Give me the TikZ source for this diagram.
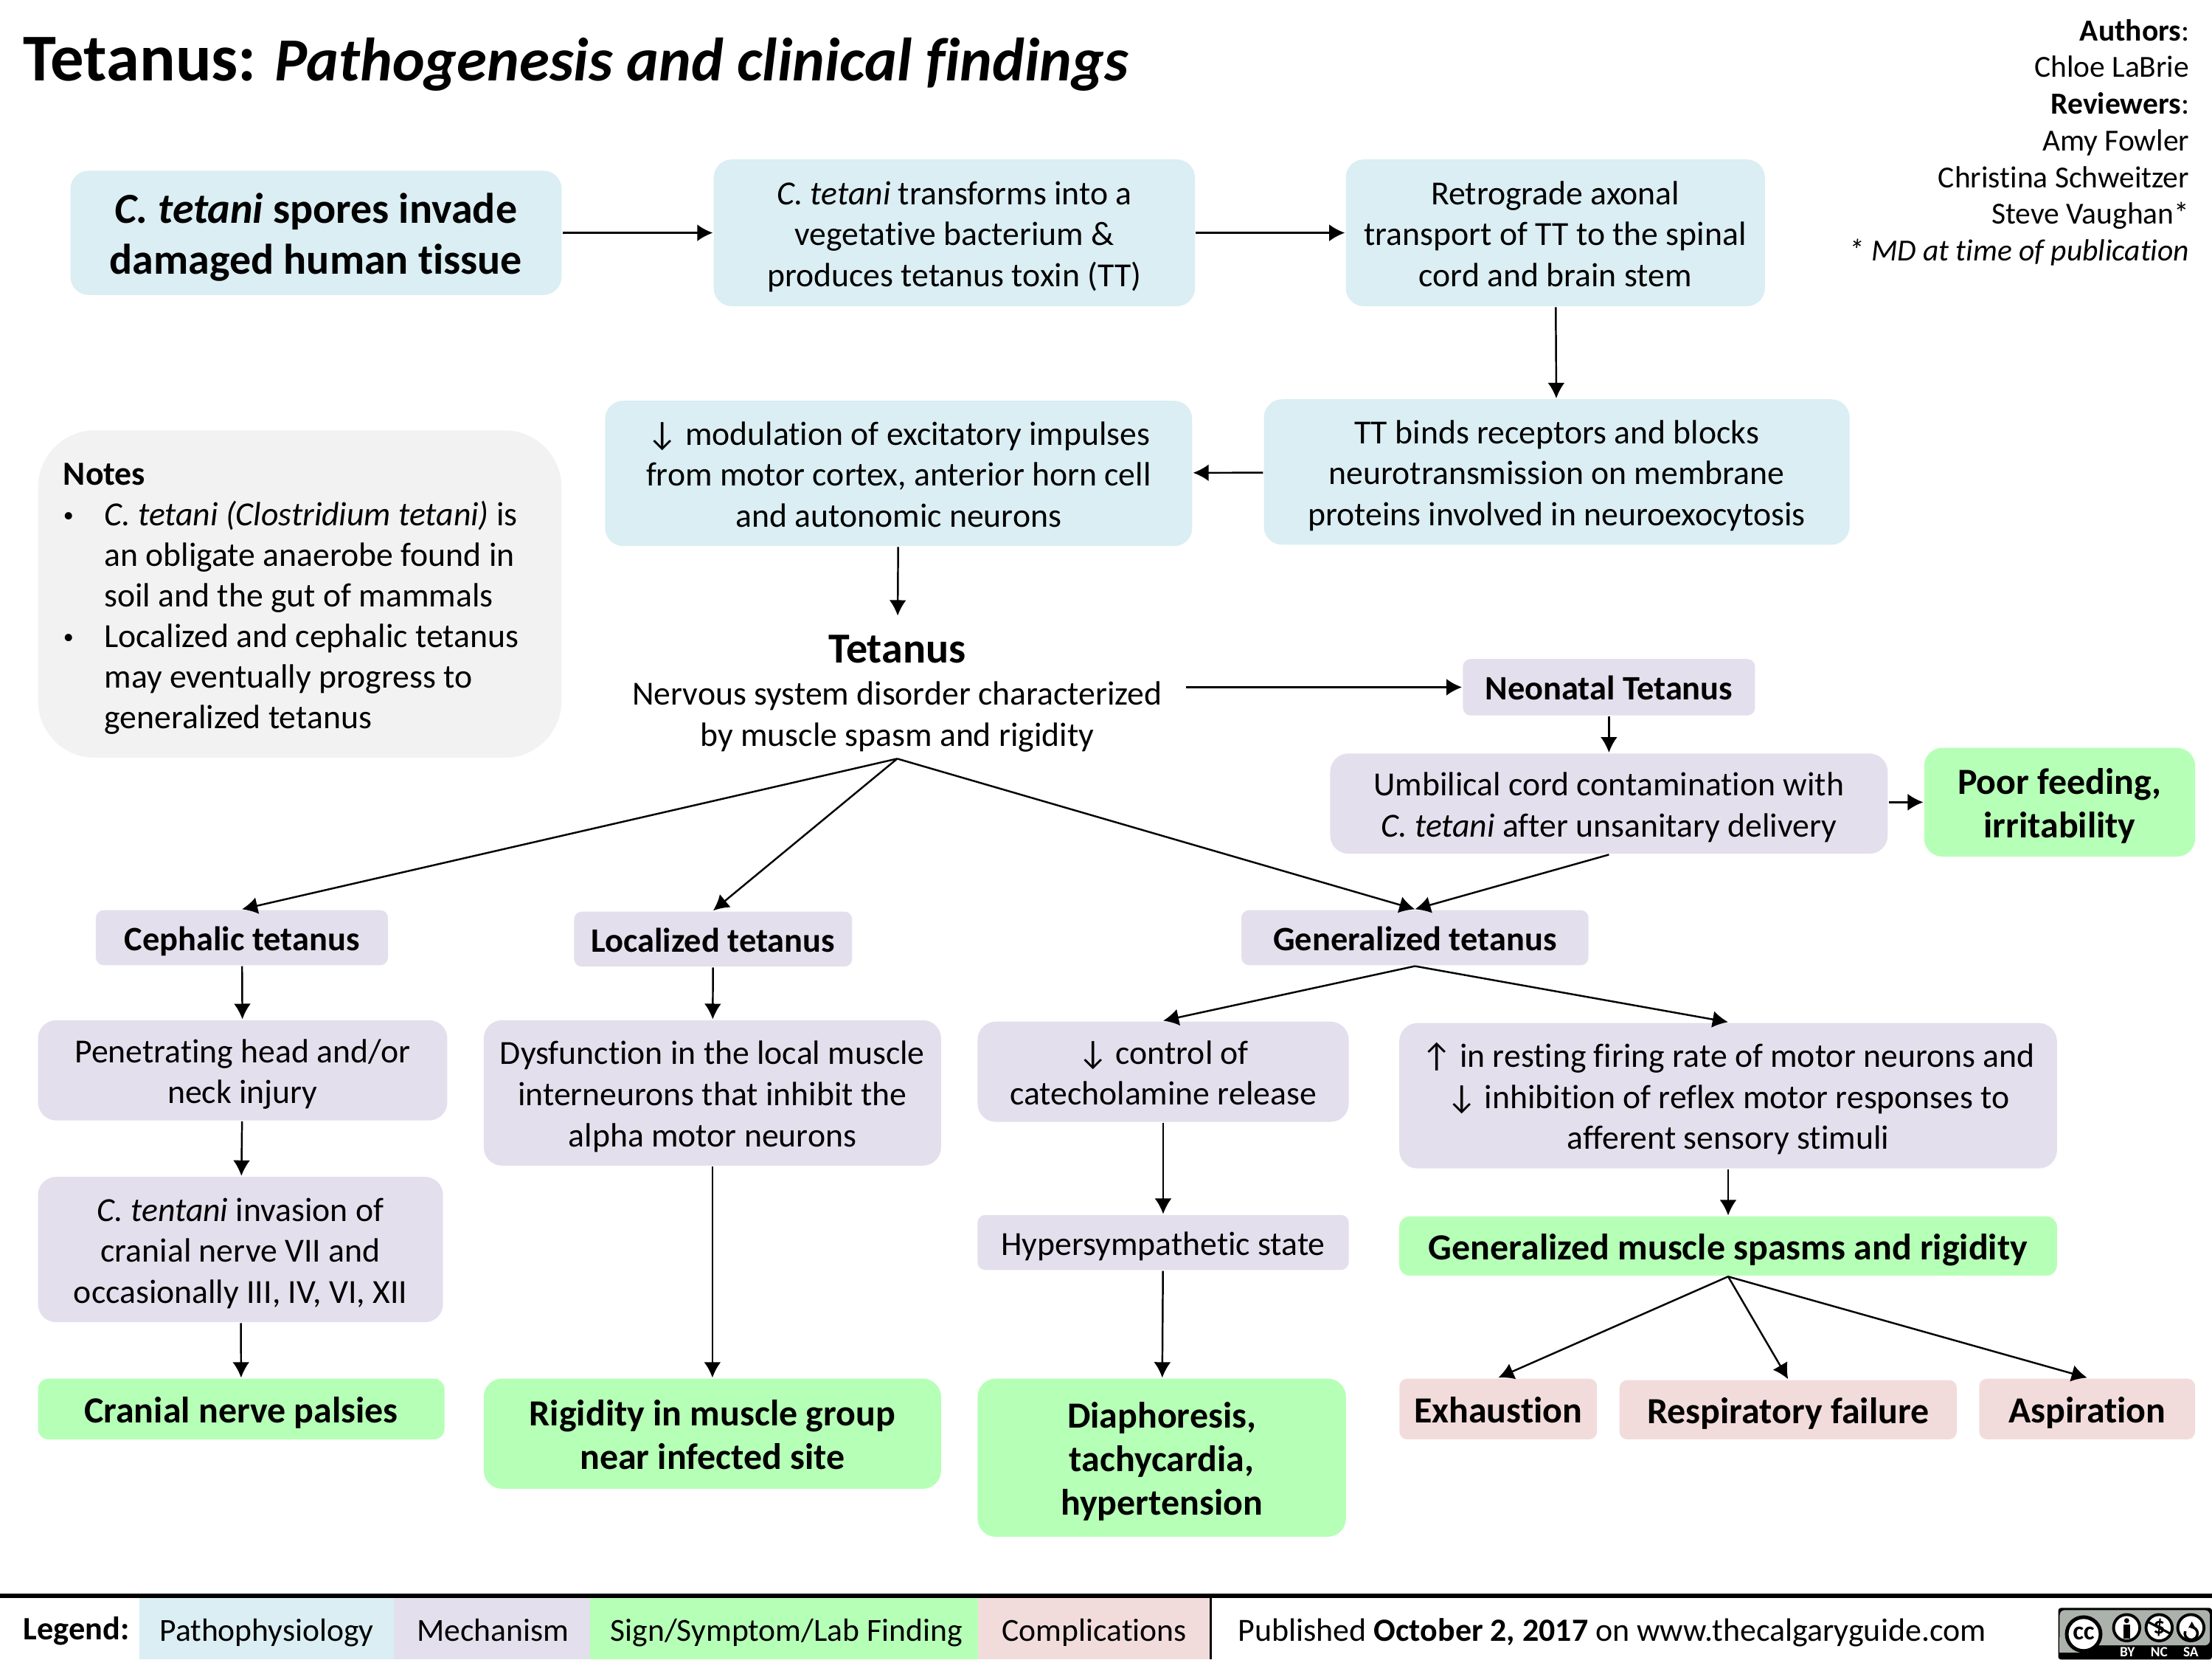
\documentclass[tikz,border=0pt]{standalone}
\usepackage{fontspec}
\setmainfont{Carlito}[Ligatures=CommonOff]
\usetikzlibrary{
  positioning,
  arrows.meta
}
\definecolor{pathblue}{HTML}{DAEEF3}
\definecolor{mechpurple}{HTML}{E4DFEC}
\definecolor{signgreen}{HTML}{B6FFB6}
\definecolor{compred}{HTML}{F2DCDB}
\definecolor{notegray}{HTML}{F2F2F2}
\definecolor{ccgray}{HTML}{AAB2AB}
\newcommand{\bodyfont}{\fontsize{13}{15.8}\selectfont}
\newcommand{\bigbold}{\fontsize{16.5}{19.6}\selectfont\bfseries}
\newcommand{\greenbold}{\fontsize{14.2}{16.9}\selectfont\bfseries}
\newcommand{\legendfont}{\fontsize{12.4}{15}\selectfont}
\newcommand{\bul}{\makebox[15.8pt][l]{\raisebox{1.3pt}{\fontsize{8}{8}\selectfont•}}}
\newcommand{\ind}{\hspace*{15.8pt}}

\begin{document}
\begin{tikzpicture}[
  x=0.019126cm,
  y=-0.019126cm,
  line width=0.7pt,
  font=\bodyfont,
  wh/.style 2 args={
     minimum width=#1*0.5442pt,
     minimum height=#2*0.5442pt,
     text width=#1*0.5442pt,
  },
  box/.style={
     rectangle,
     rounded corners=7pt,
     inner sep=0pt,
     align=flush center,
     execute at begin node={\rule{0pt}{1em}},
     execute at end node={\rule[-0.25em]{0pt}{0pt}},
  },
  pathbox/.style={box,fill=pathblue},
  mechbox/.style={box,fill=mechpurple},
  mechtag/.style={box,fill=mechpurple,rounded corners=3pt,font=\fontsize{13.2}{15.8}\selectfont\bfseries},
  signbox/.style={box,fill=signgreen,font=\greenbold},
  compbox/.style={box,fill=compred,rounded corners=3pt,font=\greenbold},
  legendbox/.style={rectangle,inner sep=0pt,outer sep=0pt,minimum height=43.5*0.5442pt,text height=12.8pt,text depth=3pt,font=\legendfont},
  link/.style={-{Latex[length=6pt,width=6.5pt]}},
]
   \useasboundingbox (0,0) rectangle (1568,1175.9);

   % The title and the credits
   \node[anchor=base west,inner sep=0pt,font=\fontsize{23.6}{28}\selectfont] (title) at (16,57)
      {\textbf{\fontsize{25.8}{28}\selectfont Tetanus:} \textbf{\textit{Pathogenesis and clinical findings}}};
   \node[anchor=north east,inner sep=0pt,align=right,font=\fontsize{11.8}{14.15}\selectfont] (credits) at (1552.5,13)
      {\textbf{Authors}:\\Chloe LaBrie\\\textbf{Reviewers}:\\Amy Fowler\\Christina Schweitzer\\Steve Vaughan*\\\textit{* MD at time of publication}};

   % The first rows
   \node[pathbox,wh={348}{88},font=\bigbold] (spores) at (224,165) {\textit{C. tetani} spores invade\\damaged human tissue};
   \node[pathbox,wh={341}{104}] (vegetative) at (676.5,165) {\textit{C. tetani} transforms into a\\vegetative bacterium \&\\produces tetanus toxin (TT)};
   \node[pathbox,wh={297}{104}] (retrograde) at (1102.5,165) {Retrograde axonal\\transport of TT to the spinal\\cord and brain stem};
   \node[pathbox,wh={415}{103}] (binds) at (1103.5,334.5) {TT binds receptors and blocks\\neurotransmission on membrane\\proteins involved in neuroexocytosis};
   \node[pathbox,wh={416}{103}] (modulation) at (637,335.5) {↓ modulation of excitatory impulses\\from motor cortex, anterior horn cell\\and autonomic neurons};

   % The notes
   \node[box,fill=notegray,rounded corners=22pt,minimum width=371*0.5442pt,minimum height=232*0.5442pt,align=flush left,text width=335*0.5442pt,font=\fontsize{13}{15.65}\selectfont] (notes) at (212.5,421)
      {\textbf{Notes}\\\bul\textit{C. tetani (Clostridium tetani)} is\\\ind an obligate anaerobe found in\\\ind soil and the gut of mammals\\\bul Localized and cephalic tetanus\\\ind may eventually progress to\\\ind generalized tetanus};

   % Tetanus itself
   \node[box,wh={408}{100}] (tetanus) at (636,487) {\rule{0pt}{16.4pt}{\bigbold Tetanus}\\[0.5pt]Nervous system disorder characterized\\by muscle spasm and rigidity};
   \node[mechtag,wh={207}{40}] (neonatal) at (1140.5,487) {Neonatal Tetanus};
   \node[mechbox,wh={395}{71}] (umbilical) at (1140.5,569.5) {Umbilical cord contamination with\\\textit{C. tetani} after unsanitary delivery};
   \node[signbox,wh={192}{77}] (feeding) at (1460,568.5) {Poor feeding,\\irritability};

   % The three forms
   \node[mechtag,wh={207}{39}] (cephalic) at (171.5,664.5) {Cephalic tetanus};
   \node[mechtag,wh={197}{39}] (localized) at (505.5,665.5) {Localized tetanus};
   \node[mechtag,wh={246}{39}] (generalized) at (1003,664.5) {Generalized tetanus};

   \node[mechbox,wh={290}{71}] (penetrating) at (172,758.5) {Penetrating head and/or\\neck injury};
   \node[mechbox,wh={287}{103}] (invasion) at (170.5,885.5) {\textit{C. tentani} invasion of\\cranial nerve VII and\\occasionally III, IV, VI, XII};
   \node[signbox,wh={288}{43},rounded corners=4pt] (palsies) at (171,998.5) {Cranial nerve palsies};

   \node[mechbox,wh={324}{103}] (dysfunction) at (505,774.5) {Dysfunction in the local muscle\\interneurons that inhibit the\\alpha motor neurons};
   \node[signbox,wh={324}{78}] (localrigid) at (505,1016) {Rigidity in muscle group\\near infected site};

   \node[mechbox,wh={263}{71}] (catechol) at (824.5,759.5) {↓ control of\\catecholamine release};
   \node[mechbox,wh={263}{39},rounded corners=3pt] (hyper) at (824.5,880.5) {Hypersympathetic state};
   \node[signbox,wh={261}{112}] (diaphoresis) at (823.5,1033) {Diaphoresis,\\tachycardia,\\hypertension};

   \node[mechbox,wh={466}{103}] (firing) at (1225,776.5) {↑ in resting firing rate of motor neurons and\\↓ inhibition of reflex motor responses to\\afferent sensory stimuli};
   \node[signbox,wh={466}{42},rounded corners=4pt] (spasms) at (1225,883) {Generalized muscle spasms and rigidity};
   \node[compbox,wh={140}{43}] (exhaustion) at (1062,998.5) {Exhaustion};
   \node[compbox,wh={239}{42}] (respiratory) at (1267.5,999) {Respiratory failure};
   \node[compbox,wh={153}{43}] (aspiration) at (1479.5,998.5) {Aspiration};

   % The connecting arrows
   \draw[link] (spores) -- (vegetative);
   \draw[link] (vegetative) -- (retrograde);
   \draw[link] (retrograde) -- (binds);
   \draw[link] (binds) -- (modulation);
   \draw[link] (modulation) -- (tetanus);
   \draw[link] (tetanus.east |- neonatal.west) -- (neonatal);
   \draw[link] (neonatal) -- (umbilical);
   \draw[link] (umbilical.east |- feeding.west) -- (feeding);
   \draw[link] (tetanus.south) -- (cephalic.north);
   \draw[link] (tetanus.south) -- (localized.north);
   \draw[link] (tetanus.south) -- (generalized.north);
   \draw[link] (umbilical.south) -- (generalized.north);
   \draw[link] (cephalic) -- (penetrating);
   \draw[link] (penetrating) -- (invasion);
   \draw[link] (invasion) -- (palsies);
   \draw[link] (localized) -- (dysfunction);
   \draw[link] (dysfunction) -- (localrigid);
   \draw[link] (generalized.south) -- (catechol.north);
   \draw[link] (generalized.south) -- (firing.north);
   \draw[link] (catechol) -- (hyper);
   \draw[link] (hyper) -- (diaphoresis);
   \draw[link] (firing) -- (spasms);
   \draw[link] (spasms.south) -- (exhaustion.north);
   \draw[link] (spasms.south) -- (respiratory.north);
   \draw[link] (spasms.south) -- (aspiration.north);

   % The legend
   \draw[line width=1.8pt] (0,1131) -- (1568,1131);
   \node[anchor=base west,inner sep=0pt,font=\fontsize{12.6}{15}\selectfont\bfseries] (legend) at (16,1162) {Legend:};
   \node[legendbox,fill=pathblue,minimum width=180*0.5442pt] (legpath) at (189,1154.25) {Pathophysiology};
   \node[legendbox,fill=mechpurple,minimum width=139*0.5442pt,right=0pt of legpath] (legmech) {\hspace{1pt}Mechanism};
   \node[legendbox,fill=signgreen,minimum width=275*0.5442pt,right=0pt of legmech] (legsign) {\hspace{2pt}Sign/Symptom/Lab Finding};
   \node[legendbox,fill=compred,minimum width=165*0.5442pt,right=0pt of legsign] (legcomp) {Complications};
   \draw (legcomp.north east) -- (legcomp.south east);
   \node[anchor=base west,inner sep=0pt,font=\fontsize{12.5}{15}\selectfont] (published) at (877,1163) {Published \textbf{October 2, 2017} on www.thecalgaryguide.com};

   % The licence badge
   \fill[black,rounded corners=1pt] (1459,1139.5) rectangle (1568,1176);
   \fill[ccgray,rounded corners=2pt] (1460,1141) rectangle (1566.5,1166);
   \fill[ccgray] (1460,1160) rectangle (1480,1171);
   \filldraw[fill=white,draw=black,line width=1.4pt] (1477,1158) circle (12);
   \node[inner sep=0pt,font=\fontsize{10}{10}\selectfont\bfseries] (badgecc) at (1477,1157.5) {cc};
   \filldraw[fill=white,draw=black,line width=1.1pt] (1507.5,1153.5) circle (9.3);
   \filldraw[fill=white,draw=black,line width=1.1pt] (1530.5,1153.5) circle (9.3);
   \filldraw[fill=white,draw=black,line width=1.1pt] (1553,1153.5) circle (9.3);
   \fill (1507.5,1148.5) circle (1.8);
   \fill (1505,1151.5) rectangle (1510,1161);
   \node[inner sep=0pt,font=\fontsize{9}{9}\selectfont\bfseries] (badgenc) at (1530.5,1153.5) {\$};
   \draw[line width=0.9pt] (1522,1149) -- (1539,1158);
   \draw[line width=1pt,-{Latex[length=2.5pt,width=3pt]}] (1549,1156) arc (200:-120:4.5);
   \node[inner sep=0pt,text=white,font=\fontsize{5.5}{6}\selectfont\bfseries] (badgeby) at (1508,1171) {BY};
   \node[inner sep=0pt,text=white,font=\fontsize{5.5}{6}\selectfont\bfseries] (badgencb) at (1530.5,1171) {NC};
   \node[inner sep=0pt,text=white,font=\fontsize{5.5}{6}\selectfont\bfseries] (badgesa) at (1553,1171) {SA};
\end{tikzpicture}
\end{document}
